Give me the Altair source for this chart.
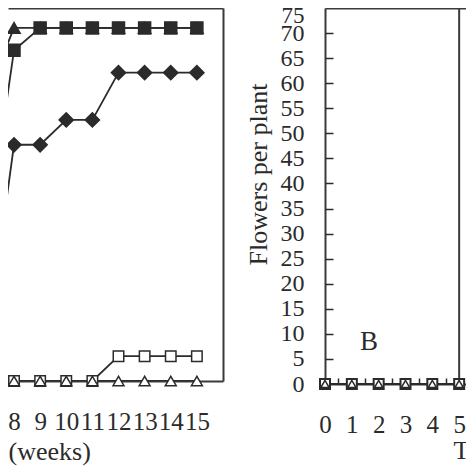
import altair as alt
import pandas as pd

# ---------------- data ----------------
weeks_a = [7, 8, 9, 10, 11, 12, 13, 14, 15]
a_filled_square = [30, 66.5, 71, 71, 71, 71, 71, 71, 71]
a_filled_triangle = [58, 71, 71, 71, 71, 71, 71, 71, 71]
a_diamond = [9, 47.5, 47.5, 52.5, 52.5, 62, 62, 62, 62]
a_open_square = [0, 0, 0, 0, 0, 5, 5, 5, 5]
a_open_triangle = [0, 0, 0, 0, 0, 0, 0, 0, 0]
a_tick_labels = [8, 9, 10, 11, 12, 13, 14, 15]
a_first_visible_week = 8

weeks_b = [0, 1, 2, 3, 4, 5]
b_open_square = [0, 0, 0, 0, 0, 0]
b_open_triangle = [0, 0, 0, 0, 0, 0]
b_tick_labels = [0, 1, 2, 3, 4, 5]
b_minor_ticks = [0.5, 1.5, 2.5, 3.5, 4.5, 5.5]
b_vertical_week = [5]
y_tick_labels = [0, 5, 10, 15, 20, 25, 30, 35, 40, 45, 50, 55, 60, 65, 70]
y_top_label = [75]
y_inner_ticks = [5, 10, 15, 20, 25, 30, 35, 40, 45, 50, 55, 60, 65, 70]

FONT = "Liberation Serif"
INK = "#2b2b2b"
FRAME = "#3a3a3a"

A_W, A_H = 215, 373
B_W, B_H = 161, 376

xa_scale = alt.Scale(domain=[7.77, 16], nice=False, zero=False)
xb_scale = alt.Scale(domain=[0, 6], nice=False, zero=False)
y_scale = alt.Scale(domain=[0, 75], nice=False, zero=False)


def frame_axis(orient):
    return alt.Axis(orient=orient, labels=False, ticks=False, grid=False,
                    domain=True, domainColor=FRAME, domainWidth=2, title=None)


def series(weeks, values, shape, filled, size, xscale, stroke_w=1.5,
           x_axis=None, y_axis=None, p_y_axis=None, clip_line=True,
           min_week=None):
    df = pd.DataFrame({"week": weeks, "value": values})
    base = alt.Chart(df)
    line = base.mark_line(color=INK, strokeWidth=1.8, clip=clip_line).encode(
        x=alt.X("week:Q", scale=xscale, axis=x_axis),
        y=alt.Y("value:Q", scale=y_scale, axis=y_axis),
    )
    pbase = base
    if min_week is not None:
        pbase = base.transform_filter(alt.datum.week >= min_week)
    pts = pbase.mark_point(
        shape=shape, filled=True, fill=INK if filled else "white",
        stroke=INK, strokeWidth=stroke_w, size=size, opacity=1,
    ).encode(
        x=alt.X("week:Q", scale=xscale, axis=None),
        y=alt.Y("value:Q", scale=y_scale, axis=p_y_axis),
    )
    return line, pts


# ---------------- panel A (right part) ----------------
ax_bottom = alt.Axis(
    orient="bottom", values=a_tick_labels, ticks=False, tickSize=0,
    labelPadding=28, labelFontSize=25, labelFont=FONT, labelColor=INK,
    labelFlush=False, labelOverlap=False, format="d",
    domain=True, domainColor=FRAME, domainWidth=2, grid=False,
    title="(weeks)", titleFont=FONT, titleFontSize=26, titleFontWeight="normal",
    titleColor=INK, titleAlign="left", titleX=0, titleY=78,
    titleBaseline="alphabetic",
)

fw = a_first_visible_week
l_osq, p_osq = series(weeks_a, a_open_square, "square", False, 110, xa_scale,
                      x_axis=ax_bottom, y_axis=frame_axis("right"), min_week=fw)
l_otr, p_otr = series(weeks_a, a_open_triangle, "triangle-up", False, 120, xa_scale,
                      x_axis=frame_axis("top"), min_week=fw)
l_ftr, p_ftr = series(weeks_a, a_filled_triangle, "triangle-up", True, 150, xa_scale,
                      min_week=fw)
l_fsq, p_fsq = series(weeks_a, a_filled_square, "square", True, 144, xa_scale,
                      min_week=fw)
l_dia, p_dia = series(weeks_a, a_diamond, "diamond", True, 200, xa_scale,
                      min_week=fw)

panel_a = alt.layer(
    l_osq, l_otr, l_ftr, l_fsq, l_dia,
    p_osq, p_otr, p_ftr, p_fsq, p_dia,
).resolve_axis(x="independent", y="independent").properties(width=A_W, height=A_H)

# ---------------- panel B (left part) ----------------
bx_bottom = alt.Axis(
    orient="bottom", values=b_tick_labels, ticks=False, tickSize=0,
    labelPadding=28, labelFontSize=25, labelFont=FONT, labelColor=INK,
    labelFlush=False, labelOverlap=False, format="d",
    domain=True, domainColor=FRAME, domainWidth=2, grid=False,
    title="Time (weeks)", titleFont=FONT, titleFontSize=26, titleFontWeight="normal",
    titleColor=INK, titleAlign="left", titleX=128, titleY=74,
    titleBaseline="alphabetic",
)
by_left = alt.Axis(
    orient="left", values=y_tick_labels, ticks=False, tickSize=0,
    labelPadding=21, labelFontSize=24, labelFont=FONT, labelColor=INK,
    labelFlush=False, labelOverlap=False, format="d",
    domain=True, domainColor=FRAME, domainWidth=2, grid=False,
    title="Flowers per plant", titleFont=FONT, titleFontSize=26,
    titleFontWeight="normal", titleColor=INK, titleX=-67, titleY=166,
    titleBaseline="middle", titleAlign="center",
)
by_top_label = alt.Axis(
    orient="left", values=y_top_label, ticks=False, tickSize=0,
    labelPadding=21, labelFontSize=23, labelFont=FONT, labelColor=INK,
    labelFlush=False, labelOverlap=False, format="d", labelBaseline="top",
    labelOffset=-4, domain=False, grid=False, title=None,
)
by_inner = alt.Axis(
    orient="right", offset=-B_W, values=y_inner_ticks, labels=False,
    domain=False, ticks=True, tickSize=8, tickWidth=1.5, tickColor=INK,
    grid=False, title=None,
)
bx_inner = alt.Axis(
    orient="top", offset=-B_H, values=b_minor_ticks, labels=False,
    domain=False, ticks=True, tickSize=6, tickWidth=1.5, tickColor=INK,
    grid=False, title=None,
)

lb_sq, pb_sq = series(weeks_b, b_open_square, "square", False, 100, xb_scale,
                      stroke_w=2, x_axis=bx_bottom, y_axis=by_left,
                      p_y_axis=by_top_label, clip_line=False)
lb_tr, pb_tr = series(weeks_b, b_open_triangle, "triangle-up", False, 70, xb_scale,
                      stroke_w=1.5, x_axis=frame_axis("top"), y_axis=by_inner,
                      clip_line=False)

vline = alt.Chart(pd.DataFrame({"week": b_vertical_week})).mark_rule(
    color=FRAME, strokeWidth=2
).encode(x=alt.X("week:Q", scale=xb_scale, axis=bx_inner))

label_b = alt.Chart(pd.DataFrame({"t": ["B"]})).mark_text(
    text="B", font=FONT, fontSize=27, color=INK, align="center", baseline="middle"
).encode(x=alt.value(44), y=alt.value(334))

panel_b = alt.layer(
    lb_sq, lb_tr, vline, pb_sq, pb_tr, label_b
).resolve_axis(x="independent", y="independent").properties(width=B_W, height=B_H)

chart = alt.hconcat(panel_a, panel_b, spacing=22).properties(
    background="white",
    autosize=alt.AutoSizeParams(type="none"),
    padding={"left": 0, "top": 0, "right": 458, "bottom": 458},
).configure_view(strokeWidth=0)

chart.save("out.html", embed_options={"renderer": "svg", "actions": False})
